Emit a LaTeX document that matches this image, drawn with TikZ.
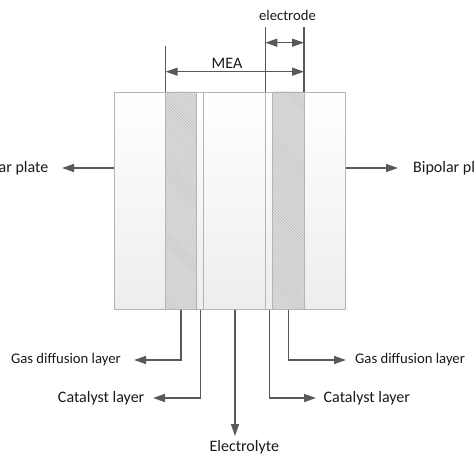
\documentclass[tikz,border=0pt]{standalone}
\usepackage{fontspec}
\setmainfont{Carlito}
\usetikzlibrary{arrows.meta,patterns}
\definecolor{linegray}{HTML}{595959}
\definecolor{edgegray}{HTML}{B4B4B4}
\definecolor{hatchbg}{HTML}{DCDCDC}
\definecolor{hatchfg}{HTML}{BEBEBE}
\tikzset{
  plate/.style={draw=edgegray, line width=0.8bp, top color=white, bottom color=black!7},
  lead/.style={draw=linegray, line width=1.4bp, -{Triangle[length=12bp,width=8bp]}},
  dim/.style={draw=linegray, line width=1.4bp, {Triangle[length=12bp,width=8bp]}-{Triangle[length=12bp,width=8bp]}},
  tick/.style={draw=linegray, line width=1.4bp},
  big/.style={font=\fontsize{16bp}{18bp}\selectfont, text=black!90, inner sep=0pt},
  small/.style={font=\fontsize{14.7bp}{17bp}\selectfont, text=black!90, inner sep=0pt},
}
\begin{document}
\begin{tikzpicture}[x=1bp,y=-1bp]
\useasboundingbox (0,0) rectangle (474,474);
\begin{scope}
\clip (0,0) rectangle (474,474);
% layers
\draw[plate] (114,92) rectangle (165.7,309.5);
\fill[hatchbg] (165.7,92) rectangle (196.7,309.5);
\fill[pattern=north west lines, pattern color=hatchfg] (165.7,92) rectangle (196.7,309.5);
\draw[edgegray, line width=0.8bp] (165.7,92) rectangle (196.7,309.5);
\draw[plate] (196.7,92) rectangle (203.3,309.5);
\draw[plate] (203.3,92) rectangle (265.3,309.5);
\draw[plate] (265.3,92) rectangle (272.7,309.5);
\fill[hatchbg] (272.7,92) rectangle (304,309.5);
\fill[pattern=north west lines, pattern color=hatchfg] (272.7,92) rectangle (304,309.5);
\draw[edgegray, line width=0.8bp] (272.7,92) rectangle (304,309.5);
\draw[plate] (304,92) rectangle (345.7,309.5);

% coordinates
\coordinate (lpL) at (114,168);
\coordinate (lpR) at (345.7,168);
\coordinate (gdlL) at (181,309.5);
\coordinate (catL) at (200.3,309.5);
\coordinate (ely) at (235,309.5);
\coordinate (catR) at (269.2,309.5);
\coordinate (gdlR) at (288.7,309.5);
\coordinate (t1) at (165.7,46);
\coordinate (t1b) at (165.7,92);
\coordinate (t2) at (265.3,27);
\coordinate (t2b) at (265.3,92);
\coordinate (t3) at (304,27);
\coordinate (t3b) at (304,92);

% labels
\node[big, anchor=east] (bpL) at (48.5,168) {Bipolar plate};
\node[big, anchor=west] (bpR) at (413,168) {Bipolar plate};
\node[small, anchor=east] (gdlLt) at (121,360) {Gas diffusion layer};
\node[big, anchor=east] (catLt) at (144.5,398) {Catalyst layer};
\node[big] (elyt) at (244.3,447) {Electrolyte};
\node[big, anchor=west] (catRt) at (323.5,398) {Catalyst layer};
\node[small, anchor=west] (gdlRt) at (355,360) {Gas diffusion layer};
\node[big] (meat) at (227,63) {MEA};
\node[small] (elt) at (287.5,15.5) {electrode};

% leaders
\coordinate (bpLtip) at (62,168);
\coordinate (bpRtip) at (398,168);
\draw[lead] (lpL) -- (bpLtip);
\draw[lead] (lpR) -- (bpRtip);
\coordinate (gdlLc) at (181,360);
\coordinate (gdlLtip) at (134,360);
\draw[lead] (gdlL) -- (gdlLc) -- (gdlLtip);
\coordinate (catLc) at (200.3,398);
\coordinate (catLtip) at (153,398);
\draw[lead] (catL) -- (catLc) -- (catLtip);
\coordinate (elytip) at (235,436);
\draw[lead] (ely) -- (elytip);
\coordinate (catRc) at (269.2,398);
\coordinate (catRtip) at (316,398);
\draw[lead] (catR) -- (catRc) -- (catRtip);
\coordinate (gdlRc) at (288.7,360);
\coordinate (gdlRtip) at (346,360);
\draw[lead] (gdlR) -- (gdlRc) -- (gdlRtip);

% dimension lines
\draw[tick] (t1) -- (t1b);
\draw[tick] (t2) -- (t2b);
\draw[tick] (t3) -- (t3b);
\coordinate (m1) at (165.7,71.7);
\coordinate (m2) at (304,71.7);
\draw[dim] (m1) -- (m2);
\coordinate (e1) at (265.3,42.7);
\coordinate (e2) at (304,42.7);
\draw[dim] (e1) -- (e2);
\end{scope}
\end{tikzpicture}
\end{document}
